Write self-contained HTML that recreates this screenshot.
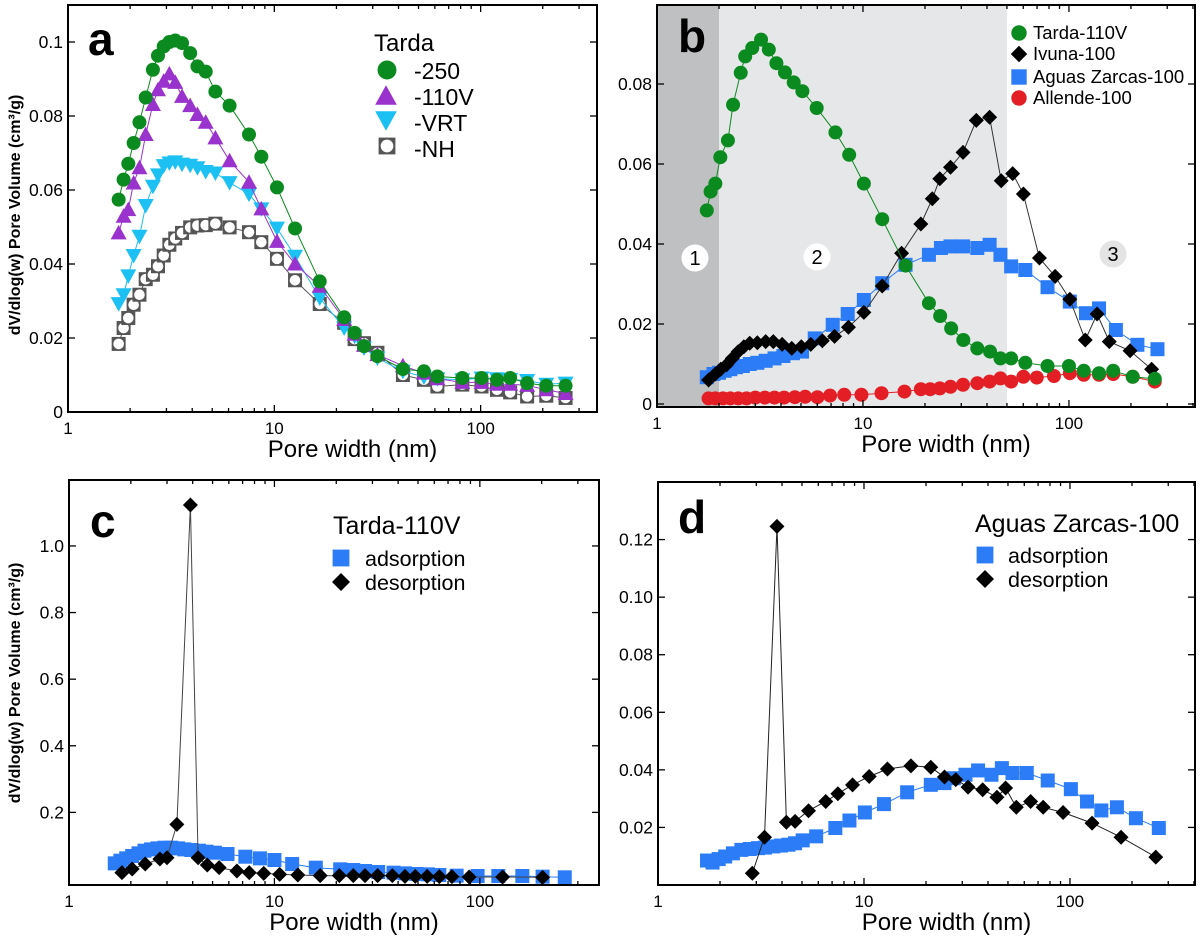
<!DOCTYPE html>
<html><head><meta charset="utf-8"><style>
html,body{margin:0;padding:0;background:#fff;}
svg{display:block;font-family:"Liberation Sans",Arial,sans-serif;}
</style></head><body>
<svg id="chart" width="1200" height="941" viewBox="0 0 1200 941" xmlns="http://www.w3.org/2000/svg"></svg>
<script>
// ---------- Panel a data (Tarda samples) ----------
const aX = [1.76,1.86,1.96,2.08,2.22,2.38,2.58,2.73,2.91,3.10,3.31,3.57,3.91,4.24,4.65,5.18,6.07,7.54,8.65,10.3,12.6,16.6,21.8,24.5,27.2,31.6,42.0,53.1,61.7,81.5,101,120,139,168,208,258];
const a250 = [0.0574,0.0628,0.0671,0.0727,0.0783,0.085,0.0925,0.0963,0.0988,0.1,0.1004,0.0997,0.097,0.0934,0.092,0.0866,0.0828,0.075,0.069,0.0607,0.0496,0.0353,0.0256,0.0214,0.0178,0.0151,0.0116,0.011,0.0096,0.0092,0.0092,0.0087,0.0092,0.0078,0.0071,0.0071];
const a110V = [0.0484,0.0529,0.0547,0.0619,0.066,0.075,0.0831,0.0871,0.0894,0.0914,0.0891,0.0853,0.0828,0.0804,0.0783,0.0741,0.0679,0.0621,0.0549,0.0461,0.040,0.034,0.025,0.021,0.018,0.0155,0.0125,0.0105,0.009,0.008,0.008,0.0075,0.0075,0.0072,0.006,0.005];
const aVRT = [0.0293,0.0317,0.0368,0.0423,0.0475,0.0558,0.061,0.0641,0.0666,0.0673,0.0676,0.067,0.0667,0.066,0.065,0.0646,0.062,0.0589,0.0549,0.0497,0.0421,0.0308,0.0227,0.0205,0.0173,0.0146,0.011,0.0095,0.009,0.0087,0.0092,0.009,0.0088,0.0085,0.0075,0.0078];
const aNH = [0.0184,0.0227,0.0254,0.029,0.0317,0.0359,0.0371,0.0394,0.0423,0.0452,0.0469,0.0484,0.0499,0.0504,0.0505,0.0509,0.0499,0.0486,0.0459,0.0414,0.0356,0.0292,0.0241,0.0197,0.0186,0.016,0.01,0.0087,0.0069,0.0074,0.0069,0.006,0.0053,0.0042,0.0044,0.0038];
const aYTicks = [0,0.02,0.04,0.06,0.08,0.1];
const aYLabels = ["0","0.02","0.04","0.06","0.08","0.1"];

// ---------- Panel b data ----------
const bTardaX = [1.745,1.82,1.92,2.03,2.21,2.34,2.55,2.68,2.90,3.20,3.49,3.80,4.18,4.61,5.08,5.96,7.35,8.57,10.1,12.4,16.1,20.9,23.7,26.8,30.7,35.9,41.4,46.5,52.4,61.4,78.7,100,118,140,164,204,261];
const bTardaY = [0.0484,0.0531,0.0551,0.0617,0.0659,0.0748,0.0828,0.0869,0.089,0.0911,0.0886,0.0852,0.0829,0.0804,0.0782,0.074,0.0679,0.0623,0.0551,0.0462,0.0346,0.0252,0.022,0.0189,0.016,0.0139,0.0131,0.0114,0.0114,0.0103,0.0095,0.0095,0.0083,0.0077,0.0083,0.0068,0.0063];
const bIvunaX = [1.78,1.92,2.04,2.18,2.32,2.48,2.64,2.82,3.07,3.37,3.67,4.05,4.51,5.02,5.58,6.35,7.28,8.50,10.1,12.4,15.4,19.1,21.7,23.6,26.6,30.6,35.5,41.2,46.9,53.3,60.1,71.9,85.7,101,120,137,157,198,252];
const bIvunaY = [0.006,0.0075,0.0087,0.0098,0.0114,0.0131,0.0143,0.0152,0.0153,0.0156,0.0156,0.0149,0.0139,0.0143,0.0149,0.0158,0.0169,0.0192,0.0229,0.0295,0.0377,0.045,0.0513,0.0563,0.0592,0.0629,0.0709,0.0717,0.0558,0.0576,0.0525,0.0365,0.0319,0.0262,0.016,0.0225,0.0156,0.0133,0.0087];
const bAguasX = [1.745,1.88,2.00,2.13,2.27,2.42,2.61,2.82,3.07,3.37,3.72,4.11,4.57,5.06,5.83,7.13,8.43,10.1,12.4,16.1,20.9,23.9,26.6,30.6,35.9,41.2,46.5,52.4,61.4,78.7,101,121,140,169,215,269];
const bAguasY = [0.0067,0.0075,0.0078,0.0083,0.0087,0.0092,0.0095,0.01,0.0103,0.0108,0.0114,0.012,0.0127,0.0131,0.0164,0.0198,0.0225,0.026,0.0302,0.0348,0.0373,0.039,0.0394,0.0394,0.039,0.0398,0.0373,0.0344,0.0335,0.0292,0.0256,0.0227,0.0239,0.0185,0.0148,0.0137];
const bAllendeX = [1.78,1.92,2.09,2.27,2.48,2.72,3.00,3.34,3.72,4.14,4.67,5.24,6.01,6.92,8.11,9.83,12.3,15.9,19.1,21.2,23.6,26.6,30.6,35.9,41.2,46.5,52.4,60.1,69.8,84.6,101,118,140,164,204,261];
const bAllendeY = [0.0014,0.0014,0.0014,0.0014,0.0014,0.0014,0.0016,0.0016,0.0016,0.0016,0.0017,0.0018,0.0017,0.0021,0.0023,0.0023,0.0027,0.0031,0.0037,0.0037,0.0039,0.0043,0.0048,0.0052,0.0056,0.0064,0.0056,0.0068,0.0066,0.007,0.0077,0.0073,0.0073,0.0075,0.0068,0.0056];
const bYTicks = [0,0.02,0.04,0.06,0.08];
const bYLabels = ["0","0.02","0.04","0.06","0.08"];
const bRegionBounds = [2, 50];

// ---------- Panel c data (Tarda-110V) ----------
const cAdsX = [1.67,1.78,1.90,2.03,2.18,2.33,2.51,2.70,2.92,3.15,3.39,3.64,3.94,4.29,4.67,5.13,5.91,7.22,8.50,10.0,12.2,15.9,20.9,24.2,27.6,32.0,38.0,43.2,49.1,55.9,63.5,77.1,97.5,123,161,202,259];
const cAdsY = [0.047,0.055,0.062,0.069,0.077,0.085,0.089,0.092,0.094,0.094,0.092,0.089,0.087,0.085,0.082,0.079,0.075,0.067,0.062,0.057,0.045,0.034,0.029,0.027,0.024,0.021,0.019,0.017,0.015,0.014,0.012,0.01,0.009,0.009,0.009,0.007,0.005];
const cDesX = [1.81,2.03,2.35,2.77,3.00,3.35,3.90,4.25,4.71,5.38,6.57,7.54,8.87,10.6,13.0,16.7,20.7,24.2,27.6,31.8,37.5,43.2,48.5,55.4,63.5,73.1,88.7,129,202];
const cDesY = [0.019,0.030,0.045,0.060,0.064,0.164,1.123,0.064,0.042,0.034,0.024,0.019,0.017,0.014,0.012,0.010,0.010,0.010,0.010,0.010,0.010,0.008,0.008,0.008,0.007,0.007,0.006,0.006,0.005];
const cYTicks = [0.2,0.4,0.6,0.8,1.0];
const cYLabels = ["0.2","0.4","0.6","0.8","1.0"];

// ---------- Panel d data (Aguas Zarcas-100) ----------
const dAdsX = [1.73,1.84,1.97,2.12,2.31,2.54,2.79,3.06,3.31,3.63,3.95,4.30,4.63,5.04,5.86,7.26,8.50,10.1,12.5,16.2,21.1,24.6,27.3,31.1,35.8,41.6,46.7,52.6,61.7,78.0,101,121,142,169,209,270];
const dAdsY = [0.0085,0.0078,0.009,0.0099,0.011,0.0122,0.0125,0.0128,0.013,0.0134,0.0137,0.014,0.0145,0.0155,0.0169,0.0198,0.0224,0.0252,0.0281,0.0322,0.0348,0.0354,0.0371,0.0383,0.0398,0.0383,0.0406,0.0389,0.0389,0.0363,0.0333,0.029,0.0259,0.027,0.0232,0.0198];
const dDesX = [2.87,3.29,3.78,4.20,4.63,5.38,6.52,7.47,8.80,10.6,13.0,16.9,21.1,24.6,27.9,32.0,37.7,44.2,48.7,54.9,64.4,74.1,92.6,128,177,261];
const dDesY = [0.0041,0.0166,0.1246,0.0218,0.0221,0.0258,0.029,0.0317,0.0348,0.0377,0.0403,0.0414,0.0409,0.0375,0.0366,0.034,0.0331,0.0305,0.0337,0.027,0.029,0.027,0.0252,0.0215,0.0166,0.0097];
const dYTicks = [0.02,0.04,0.06,0.08,0.10,0.12];
const dYLabels = ["0.02","0.04","0.06","0.08","0.10","0.12"];

const xTicks = [1,10,100];
const xLabels = ["1","10","100"];

const NS = "http://www.w3.org/2000/svg";
const svg = document.getElementById("chart");
function mk(tag, attrs, parent){
  const e = document.createElementNS(NS, tag);
  for (const k in attrs) e.setAttribute(k, attrs[k]);
  (parent||svg).appendChild(e);
  return e;
}
function scales(p){
  const sx = w => p.x0 + Math.log10(w) / p.lmax * (p.x1 - p.x0);
  const sy = v => p.y1 - (v - p.ymin) / (p.ymax - p.ymin) * (p.y1 - p.y0);
  return {sx, sy};
}
function marker(g, type, x, y, color, s){
  s = s || 1;
  let e;
  if (type === "circle") e = mk("circle", {cx:x, cy:y, r:7*s, fill:color}, g);
  else if (type === "ocircle") {
    e = mk("rect", {x:x-7*s, y:y-7*s, width:14*s, height:14*s, fill:"#555"}, g);
    mk("circle", {cx:x, cy:y, r:5.3*s, fill:"#fff"}, g);
  }
  else if (type === "square") e = mk("rect", {x:x-7*s, y:y-7*s, width:14*s, height:14*s, fill:color}, g);
  else if (type === "tri") e = mk("polygon", {points:`${x},${y-8*s} ${x-8*s},${y+6.5*s} ${x+8*s},${y+6.5*s}`, fill:color}, g);
  else if (type === "itri") e = mk("polygon", {points:`${x},${y+8*s} ${x-8*s},${y-6.5*s} ${x+8*s},${y-6.5*s}`, fill:color}, g);
  else if (type === "diamond") e = mk("polygon", {points:`${x},${y-7.5*s} ${x+7.5*s},${y} ${x},${y+7.5*s} ${x-7.5*s},${y}`, fill:color}, g);
  return e;
}
function series(p, xs, ys, type, color, lineColor, name){
  const {sx, sy} = scales(p);
  const g = mk("g", {});
  
  
  const pts = xs.map((w,i)=> sx(w).toFixed(1)+","+sy(ys[i]).toFixed(1)).join(" ");
  const line = mk("polyline", {points:pts, fill:"none", stroke:lineColor, "stroke-width":1}, g);
  
  
  xs.forEach((w,i)=>{
    const m = marker(g, type, sx(w), sy(ys[i]), color);
    
    
  });
}
function axes(p, yTicks, yLabels, name){
  const {sx, sy} = scales(p);
  const g = mk("g", {});
  
  
  for (let d=0; d<3; d++){
    for (let m=1; m<10; m++){
      const w = m*Math.pow(10,d);
      const x = sx(w);
      if (x > p.x1) continue;
      const len = m===1?7:4;
      mk("line", {x1:x, y1:p.y1, x2:x, y2:p.y1-len, stroke:"#000","stroke-width":1.3}, g);
      mk("line", {x1:x, y1:p.y0, x2:x, y2:p.y0+len, stroke:"#000","stroke-width":1.3}, g);
    }
  }
  xTicks.forEach((w,i)=>{
    const t = mk("text", {x:sx(w), y:p.y1+22, "font-size":17, "text-anchor":"middle"}, g);
    t.textContent = xLabels[i];
    
    
  });
  yTicks.forEach((v,i)=>{
    const y = sy(v);
    mk("line", {x1:p.x0, y1:y, x2:p.x0+7, y2:y, stroke:"#000","stroke-width":1.3}, g);
    mk("line", {x1:p.x1, y1:y, x2:p.x1-7, y2:y, stroke:"#000","stroke-width":1.3}, g);
    const t = mk("text", {x:p.x0-5, y:y+6, "font-size":17.5, "text-anchor":"end"}, g);
    t.textContent = yLabels[i];
    
    
  });
  const r = mk("rect", {x:p.x0, y:p.y0, width:p.x1-p.x0, height:p.y1-p.y0, fill:"none", stroke:"#000", "stroke-width":2}, g);
  
  
  const xt = mk("text", {x:(p.x0+p.x1)/2+20, y:p.y1+45, "font-size":24, "text-anchor":"middle"}, g);
  xt.textContent = "Pore width (nm)";
  
  
}
function text(x, y, s, size, name, extra){
  const t = mk("text", Object.assign({x:x, y:y, "font-size":size}, extra||{}));
  t.textContent = s;
  
  
  return t;
}
function ytitle(cx, cy){
  text(0, 0, "dV/dlog(w) Pore Volume (cm³/g)", 16, "y-axis-title", {"font-weight":"bold","text-anchor":"middle", transform:`translate(${cx},${cy}) rotate(-90)`});
}

// Panel geometry
const PA = {x0:68, x1:597, y0:5, y1:412, lmax:2.564, ymin:0, ymax:0.110};
const PB = {x0:657, x1:1195, y0:5, y1:407, lmax:2.612, ymin:-0.00075, ymax:0.09975};
const PC = {x0:69, x1:599, y0:480, y1:885, lmax:2.58, ymin:-0.018, ymax:1.198};
const PD = {x0:658, x1:1195, y0:482, y1:885, lmax:2.607, ymin:0, ymax:0.140};

// ---- Panel a ----
series(PA, aX, aNH, "ocircle", "#555", "#555", "series-nh");
series(PA, aX, aVRT, "itri", "#1cc0f2", "#1cc0f2", "series-vrt");
series(PA, aX, a110V, "tri", "#9a32cd", "#9a32cd", "series-110v");
series(PA, aX, a250, "circle", "#0b8a1f", "#0b8a1f", "series-250");
axes(PA, aYTicks, aYLabels, "panel-a");
ytitle(20, 215);
text(88, 55, "a", 46, "panel-label-a", {"font-weight":"bold"});
text(374, 51, "Tarda", 24, "legend-title-a");
marker(svg, "circle", 387, 70, "#0b8a1f", 1.35);
marker(svg, "tri", 386, 96, "#9a32cd", 1.35);
marker(svg, "itri", 386, 120, "#1cc0f2", 1.35);
marker(svg, "ocircle", 387, 146, "#555", 1.2);
text(414, 79, "-250", 23, "legend-entry-250");
text(414, 105, "-110V", 23, "legend-entry-110v");
text(414, 131, "-VRT", 23, "legend-entry-vrt");
text(414, 157, "-NH", 23, "legend-entry-nh");

// ---- Panel b ----
{
  const {sx} = scales(PB);
  const r1 = mk("rect", {x:PB.x0, y:PB.y0, width:sx(bRegionBounds[0])-PB.x0, height:PB.y1-PB.y0, fill:"#bfc0c2"});
  
  
  const r2 = mk("rect", {x:sx(bRegionBounds[0]), y:PB.y0, width:sx(bRegionBounds[1])-sx(bRegionBounds[0]), height:PB.y1-PB.y0, fill:"#e6e7e8"});
  
  
}
[[695,258,"1","#fff"],[817,257,"2","#fff"],[1113,254,"3","#e4e4e4"]].forEach(r=>{
  const c = mk("circle", {cx:r[0], cy:r[1], r:13.5, fill:r[3]});
  
  
  text(r[0], r[1]+7, r[2], 20, "region-label-" + r[2], {"text-anchor":"middle"});
});
series(PB, bAllendeX, bAllendeY, "circle", "#e31e24", "#e31e24", "series-allende");
series(PB, bAguasX, bAguasY, "square", "#2b7cf6", "#2b7cf6", "series-aguas-zarcas");
series(PB, bIvunaX, bIvunaY, "diamond", "#000", "#333", "series-ivuna");
series(PB, bTardaX, bTardaY, "circle", "#0b8a1f", "#0b8a1f", "series-tarda-110v");
axes(PB, bYTicks, bYLabels, "panel-b");
text(678, 52, "b", 46, "panel-label-b", {"font-weight":"bold"});
marker(svg, "circle", 1019, 33, "#0b8a1f", 1.1);
marker(svg, "diamond", 1019, 54, "#000", 1.1);
marker(svg, "square", 1019, 77, "#2b7cf6", 1.1);
marker(svg, "circle", 1019, 98, "#e31e24", 1.1);
text(1033, 39, "Tarda-110V", 18.5, "legend-entry-tarda-110v");
text(1033, 60, "Ivuna-100", 18.5, "legend-entry-ivuna");
text(1033, 83, "Aguas Zarcas-100", 18.5, "legend-entry-aguas-zarcas");
text(1033, 104, "Allende-100", 18.5, "legend-entry-allende");

// ---- Panel c ----
series(PC, cAdsX, cAdsY, "square", "#2b7cf6", "#2b7cf6", "series-c-adsorption");
series(PC, cDesX, cDesY, "diamond", "#000", "#444", "series-c-desorption");
axes(PC, cYTicks, cYLabels, "panel-c");
ytitle(20, 683);
text(90, 537, "c", 46, "panel-label-c", {"font-weight":"bold"});
text(333, 534, "Tarda-110V", 25, "legend-title-c");
marker(svg, "square", 341, 558, "#2b7cf6", 1.2);
marker(svg, "diamond", 341, 582, "#000", 1.2);
text(365, 566, "adsorption", 21.5, "legend-entry-c-adsorption");
text(365, 590, "desorption", 21.5, "legend-entry-c-desorption");

// ---- Panel d ----
series(PD, dAdsX, dAdsY, "square", "#2b7cf6", "#2b7cf6", "series-d-adsorption");
series(PD, dDesX, dDesY, "diamond", "#000", "#222", "series-d-desorption");
axes(PD, dYTicks, dYLabels, "panel-d");
text(678, 533, "d", 46, "panel-label-d", {"font-weight":"bold"});
text(975, 532, "Aguas Zarcas-100", 25, "legend-title-d");
marker(svg, "square", 985, 555, "#2b7cf6", 1.2);
marker(svg, "diamond", 985, 579, "#000", 1.2);
text(1008, 563, "adsorption", 21.5, "legend-entry-d-adsorption");
text(1008, 587, "desorption", 21.5, "legend-entry-d-desorption");
</script>
</body></html>
